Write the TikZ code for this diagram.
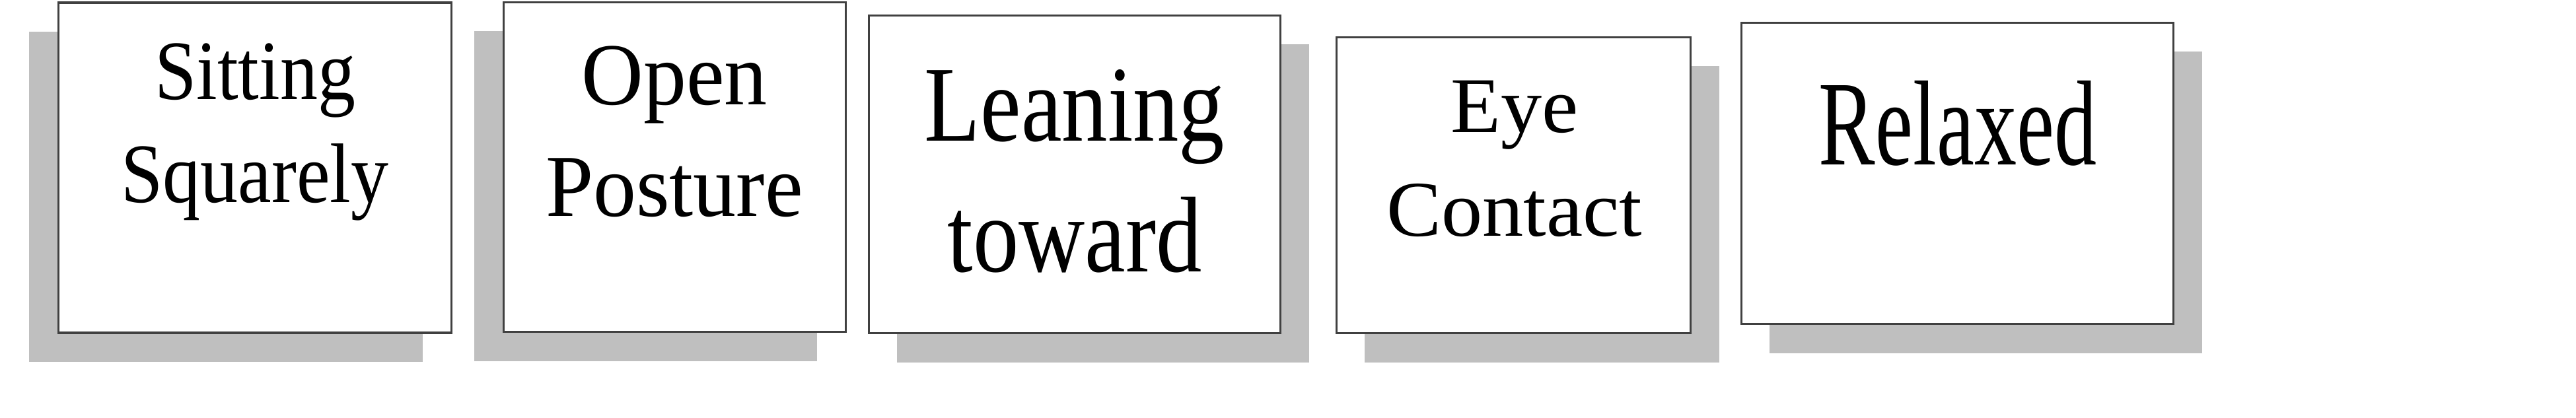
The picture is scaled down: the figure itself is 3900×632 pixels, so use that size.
\documentclass[tikz,border=0pt]{standalone}
\usepackage{graphicx}
\usepackage{fontspec}
\setmainfont{Liberation Serif}
\usetikzlibrary{shapes,shadows,positioning}

% label: x-squeeze, font size, line skip, lines
\newcommand{\cardlabel}[4]{%
    {\fontsize{#2}{#3}\selectfont\scalebox{#1}[1]{\begin{tabular}[t]{@{}c@{}}#4\end{tabular}}}}

\begin{document}
\begin{tikzpicture}[
    x=0.01cm,
    y=-0.01cm,
    card/.style={
        rectangle,
        draw=black!75,
        line width=1pt,
        fill=white,
        inner sep=0pt
    },
    shadeleft/.style={
        drop shadow={shadow xshift=-0.44cm, shadow yshift=-0.44cm, fill=black!25, opacity=1}
    },
    shaderight/.style={
        drop shadow={shadow xshift=0.43cm, shadow yshift=-0.44cm, fill=black!25, opacity=1}
    },
    cardtext/.style={
        anchor=base, inner sep=0pt
    }
]
    \useasboundingbox (0,0) rectangle (3900,632);

    % Boxes
    \node [card, shadeleft, minimum width=5.95cm, minimum height=5.0cm] (sit) at (386,254) {};
    \node [card, shadeleft, minimum width=5.18cm, minimum height=4.99cm] (open) at (1021.5,253) {};
    \node [card, shaderight, minimum width=6.23cm, minimum height=4.81cm] (lean) at (1627,264) {};
    \node [card, shaderight, minimum width=5.36cm, minimum height=4.48cm] (eye) at (2291.5,280.5) {};
    \node [card, shaderight, minimum width=6.54cm, minimum height=4.56cm] (relax) at (2963.5,262.5) {};

    % Labels
    \node [cardtext] (sitlabel) at (386,150) {\cardlabel{0.89}{36.4pt}{44.4pt}{Sitting\\Squarely}};
    \node [cardtext] (openlabel) at (1021,158) {\cardlabel{0.97}{38.1pt}{48.1pt}{Open\\Posture}};
    \node [cardtext] (leanlabel) at (1627,213) {\cardlabel{0.85}{46.4pt}{56.3pt}{Leaning\\toward}};
    \node [cardtext] (eyelabel) at (2293,200) {\cardlabel{1.04}{34pt}{44.7pt}{Eye\\Contact}};
    \node [cardtext] (relaxlabel) at (2964,249) {\cardlabel{0.70}{52.1pt}{60pt}{Relaxed}};

\end{tikzpicture}
\end{document}
